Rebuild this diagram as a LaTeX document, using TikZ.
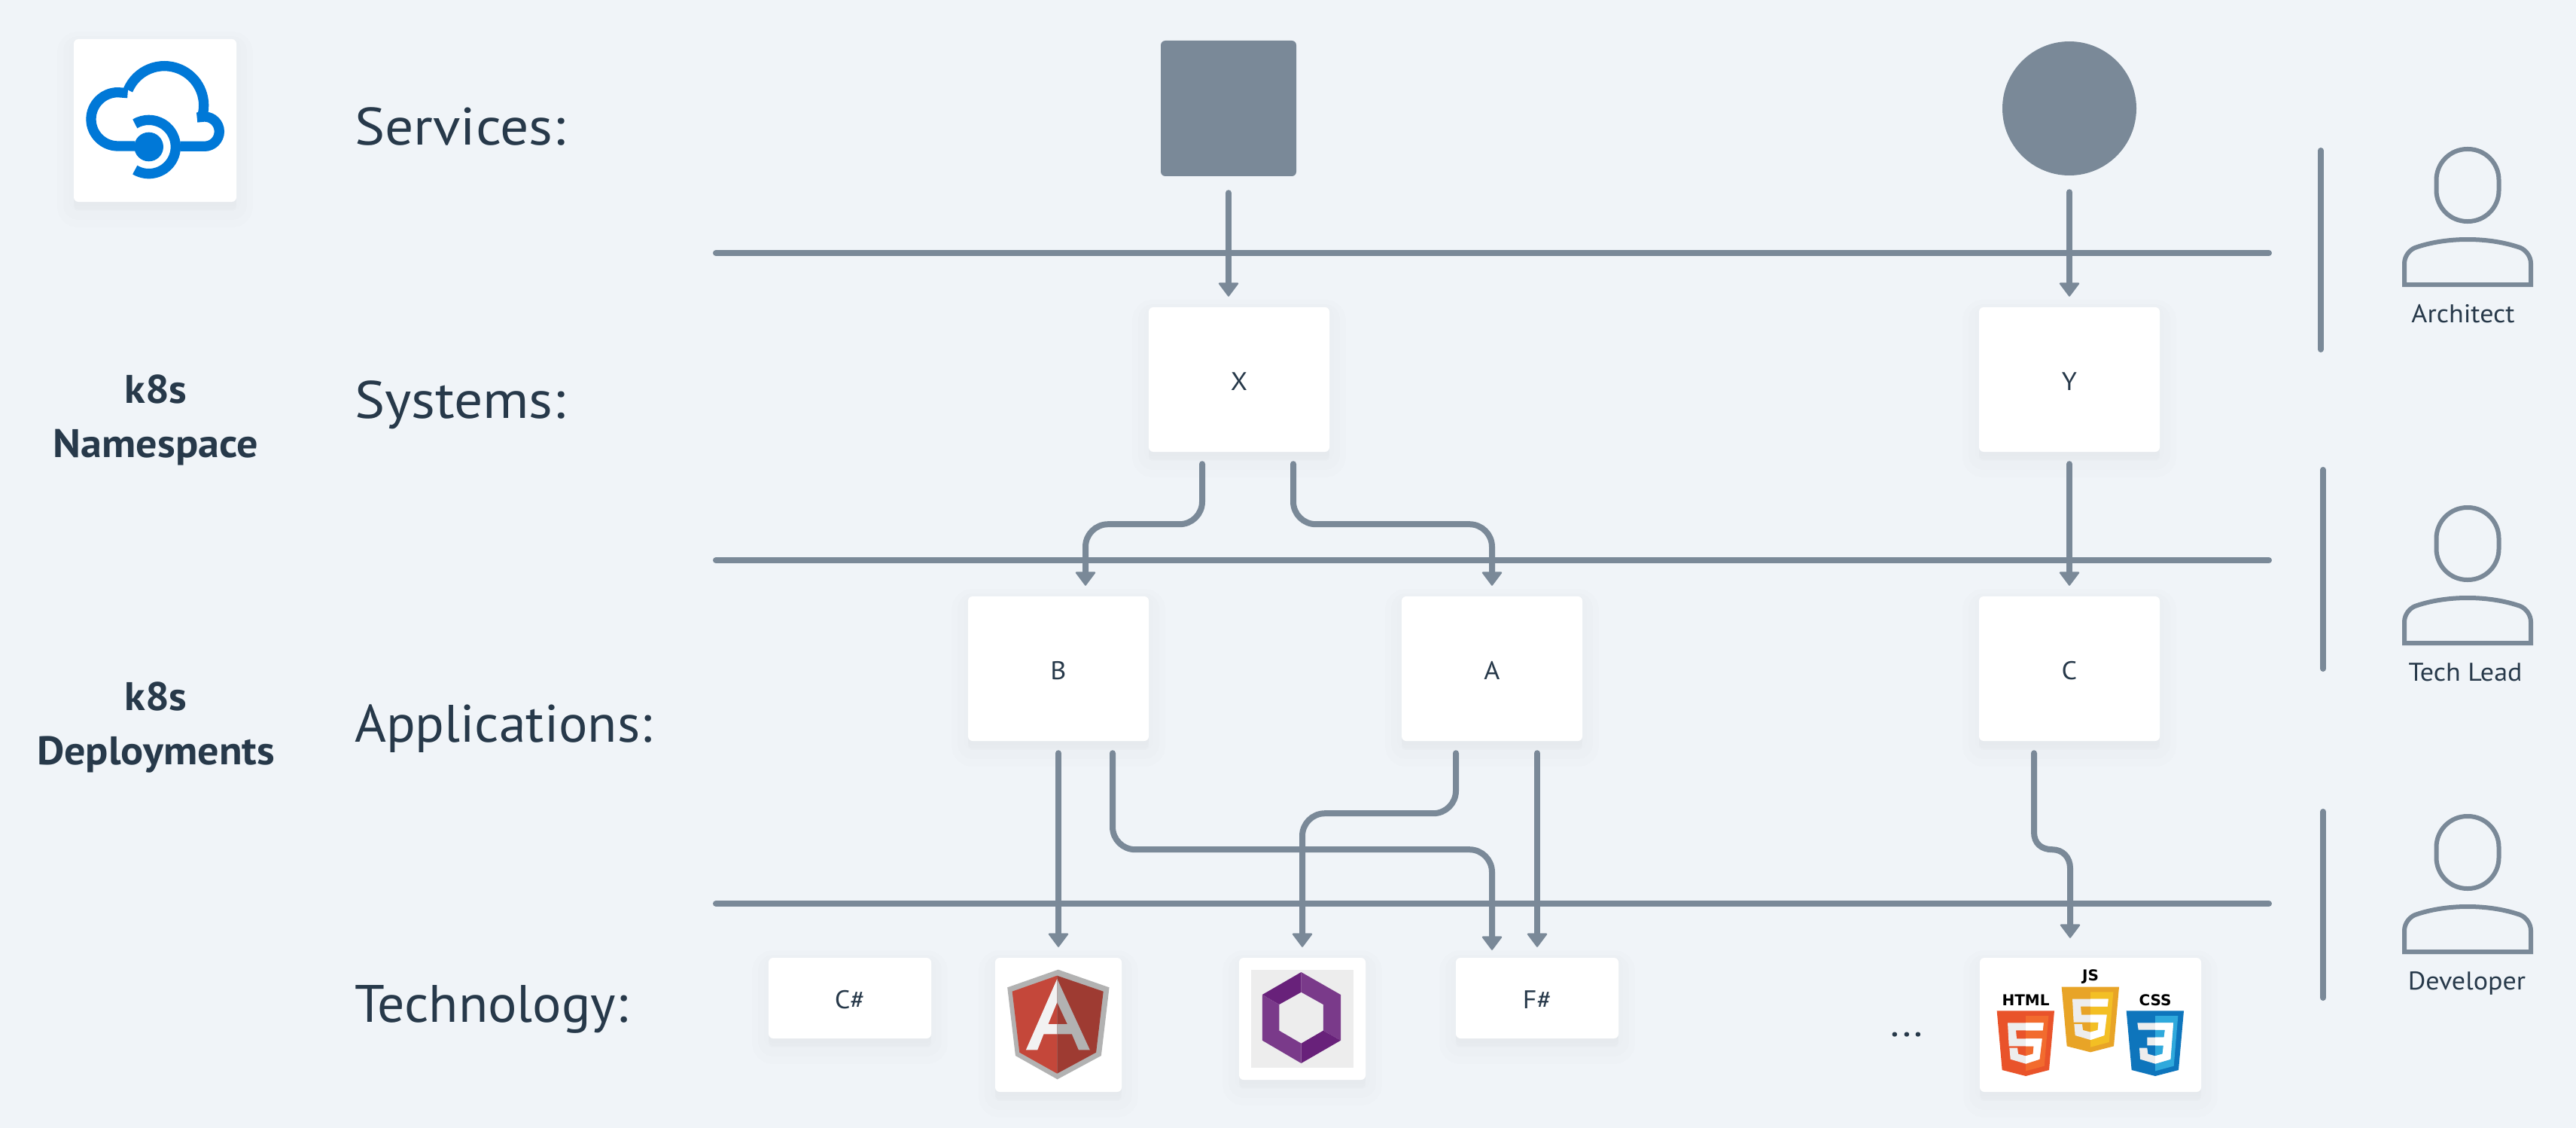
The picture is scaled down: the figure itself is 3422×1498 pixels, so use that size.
\documentclass[tikz,border=0pt]{standalone}
\usepackage{fontspec}
\setmainfont[FakeStretch=1.06]{PT Sans}
\newfontfamily\rowwide[FakeStretch=1.08]{PT Sans}
\newfontfamily\rownarrow[FakeStretch=1.025]{PT Sans}
\usetikzlibrary{arrows.meta,calc}
\definecolor{bgc}{HTML}{F0F4F8}
\definecolor{linec}{HTML}{7A8998}
\definecolor{textc}{HTML}{27394A}
\definecolor{azure}{HTML}{0078D7}
\definecolor{angred}{HTML}{C4473A}
\definecolor{angdark}{HTML}{9E3B32}
\definecolor{chaindark}{HTML}{68217A}
\definecolor{chainlight}{HTML}{7A3A8A}
\definecolor{htmlbase}{HTML}{E9532A}
\definecolor{htmllight}{HTML}{F26B2E}
\definecolor{jsbase}{HTML}{E8A427}
\definecolor{jslight}{HTML}{F3BF24}
\definecolor{cssbase}{HTML}{0E75BC}
\definecolor{csslight}{HTML}{2FA9DC}
\newcommand{\fsz}[1]{\fontsize{#1}{#1}\selectfont}
\tikzset{
  card/.style={fill=white,draw=none,rounded corners=6pt,inner sep=0pt,text=textc,font=\fsz{34},
    text height=28pt,text depth=0pt,
    preaction={draw=black,fill=black,draw opacity=.006,fill opacity=.006,line width=44pt,transform canvas={yshift=-12pt}},
    preaction={draw=black,fill=black,draw opacity=.006,fill opacity=.006,line width=28pt,transform canvas={yshift=-10pt}},
    preaction={draw=black,fill=black,draw opacity=.005,fill opacity=.005,line width=12pt,transform canvas={yshift=-6pt}}},
  conn/.style={draw=linec,line width=8pt,line cap=round,
    -{Triangle[length=19pt,width=28pt,line width=2pt,round]}},
  tier/.style={draw=linec,line width=8pt,line cap=round},
  rowlabel/.style={anchor=base west,inner sep=0pt,text=textc,font=\rowwide\fsz{70}},
  rowlabeltight/.style={anchor=base west,inner sep=0pt,text=textc,font=\rownarrow\fsz{70}},
  boldlabel/.style={anchor=base,inner sep=0pt,text=textc,font=\fsz{53}\bfseries},
  rolelabel/.style={anchor=base,inner sep=0pt,text=textc,font=\fsz{34}},
  azurearc/.style={draw=azure,line width=13.3pt}
}
\newcommand{\personicon}[1]{%
  \begin{scope}[shift={(0,#1)}]
    \draw[line width=6pt,draw=linec,rounded corners=41pt] (3236.5,198) rectangle (3319.5,294);
    \draw[line width=6pt,draw=linec,miter limit=4]
      (3194,378) -- (3194,350) .. controls (3194,340) and (3201,332) .. (3208,329)
      .. controls (3228,322) and (3252,318) .. (3278,318)
      .. controls (3304,318) and (3328,322) .. (3348,329)
      .. controls (3355,332) and (3362,340) .. (3362,350) -- (3362,378) -- cycle;
  \end{scope}}
\def\fivepath{(201,325) -- (344,325) -- (341,355) -- (234,355) -- (237,388) -- (338,388) -- (328,470) -- (273,488) -- (212,470) -- (208,425) -- (240,425) -- (243,449) -- (273,457) -- (302,449) -- (305,418) -- (206,418) -- cycle}
\def\threepath{(202,325) -- (345,325) -- (334,470) -- (273,488) -- (213,470) -- (210,425) -- (241,425) -- (244,449) -- (273,457) -- (302,449) -- (306,415) -- (241,415) -- (241,383) -- (308,383) -- (312,353) -- (206,353) -- cycle}
\newcommand{\shieldicon}[5]{%
  \begin{scope}[shift={(#1,#2)}]
    \fill[#3] (158,277) -- (387,277) -- (366,513) -- (273,537) -- (179,513) -- cycle;
    \fill[#4] (273,297) -- (364,297) -- (347,497) -- (273,517) -- cycle;
    \fill[white!93!black] #5;
    \begin{scope}
      \clip (273,277) rectangle (400,540);
      \fill[white] #5;
    \end{scope}
  \end{scope}}
\begin{document}
\begin{tikzpicture}[x=1pt,y=-1pt]
\useasboundingbox (0,0) rectangle (3422,1498);
\fill[bgc] (0,0) rectangle (3422,1498);

% tier lines
\draw[tier] (951,336) -- (3014,336);
\draw[tier] (951,744) -- (3014,744);
\draw[tier] (951,1200) -- (3014,1200);

% role bars
\draw[tier] (3083,200) -- (3083,464);
\draw[tier] (3086,624) -- (3086,888);
\draw[tier] (3086,1078) -- (3086,1325);

% row labels
\node[rowlabel] (lsvc) at (471,193) {Services:};
\node[rowlabel] (lsys) at (471,555) {Systems:};
\node[rowlabeltight] (lapp) at (471,985) {Applications:};
\node[rowlabeltight] (ltec) at (471,1357) {Technology:};
\node[boldlabel] (lk1) at (207,535) {k8s};
\node[boldlabel] (lk2) at (207,607) {Namespace};
\node[boldlabel] (lk3) at (207,943) {k8s};
\node[boldlabel] (lk4) at (207,1015) {Deployments};

% service shapes
\node[fill=linec,rounded corners=6pt,minimum size=180pt,inner sep=0pt] (svcA) at (1632,144) {};
\node[fill=linec,circle,minimum size=178pt,inner sep=0pt] (svcB) at (2749,144) {};

% system and application cards
\node[card,minimum width=240pt,minimum height=192pt] (X) at (1646,504) {X};
\node[card,minimum width=240pt,minimum height=192pt] (Y) at (2749,504) {Y};
\node[card,minimum width=240pt,minimum height=192pt] (B) at (1406,888) {B};
\node[card,minimum width=240pt,minimum height=192pt] (A) at (1982,888) {A};
\node[card,minimum width=240pt,minimum height=192pt] (C) at (2749,888) {C};

% technology cards
\node[card,minimum width=216pt,minimum height=107pt] (csharp) at (1129,1325.5) {C\#};
\node[card,minimum width=168pt,minimum height=178pt] (angular) at (1406,1361) {};
\node[card,minimum width=168pt,minimum height=162pt] (chain) at (1730,1353) {};
\node[card,minimum width=216pt,minimum height=107pt] (fsharp) at (2042,1325.5) {F\#};
\node[card,minimum width=294pt,minimum height=178pt] (web) at (2777,1361) {};
\node[inner sep=0pt,text=textc,font=\fsz{52}] (dots) at (2533,1374) {...};

% logo card
\node[card,minimum width=216pt,minimum height=216pt] (logo) at (206,160) {};

% connectors
\draw[conn,shorten <=22pt,shorten >=14pt] (svcA.south) -- ([xshift=-14pt]X.north);
\draw[conn,shorten <=22pt,shorten >=14pt] (svcB.south) -- (Y.north);
\draw[conn,rounded corners=30pt,shorten <=16pt,shorten >=14pt]
  ([xshift=-49pt]X.south) -- ++(0,96) -| ([xshift=36pt]B.north);
\draw[conn,rounded corners=30pt,shorten <=16pt,shorten >=14pt]
  ([xshift=72pt]X.south) -- ++(0,96) -| (A.north);
\draw[conn,shorten <=16pt,shorten >=14pt] (Y.south) -- (C.north);
\draw[conn,shorten <=16pt,shorten >=14pt] (B.south) -- (angular.north);
\draw[conn,rounded corners=30pt,shorten <=16pt,shorten >=10pt]
  ([xshift=72pt]B.south) -- ++(0,144) -| ([xshift=-60pt]fsharp.north);
\draw[conn,rounded corners=30pt,shorten <=16pt,shorten >=14pt]
  ([xshift=-48pt]A.south) -- ++(0,96) -| (chain.north);
\draw[conn,shorten <=16pt,shorten >=14pt] ([xshift=60pt]A.south) -- (fsharp.north);
\draw[conn,shorten <=16pt,shorten >=26pt]
  ([xshift=-47pt]C.south) -- ++(0,121)
  .. controls +(0,15) and +(-14,0) .. ++(24,23)
  .. controls +(14,0) and +(0,-15) .. ++(24,25)
  -- ([xshift=-27pt]web.north);

% role icons
\personicon{0}
\personicon{476}
\personicon{886}
\node[rolelabel] (rA) at (3272,428) {Architect};
\node[rolelabel] (rT) at (3275,904) {Tech Lead};
\node[rolelabel] (rD) at (3277,1314) {Developer};

% cloud logo
\begin{scope}[shift={(60,30)},scale=1/3]
  \draw[azurearc] (358,492) -- (290,492) arc[start angle=90,end angle=270,radius=107] -- (329,281);
  \draw[azurearc] (475,330) ++(203:157) arc[start angle=203,end angle=375,radius=157];
  \draw[azurearc] (605,378) -- (635,375) arc[start angle=270,end angle=450,radius=59] -- (538,493);
  \draw[azurearc] (413,495) ++(121:107) arc[start angle=121,end angle=-121,radius=107];
  \fill[azure] (413,495) circle[radius=58];
\end{scope}

% angular logo
\begin{scope}[shift={(1290,1250)},xscale=1/2.8,yscale=1/3]
  \fill[black!30] (324,113) -- (514,184) -- (484,456) -- (321,550) -- (165,456) -- (135,184) -- cycle;
  \fill[angred] (320,137) -- (153,200) -- (180,443) -- (320,527) -- cycle;
  \fill[angdark] (320,137) -- (492,200) -- (465,443) -- (320,527) -- cycle;
  \fill[white!95!black] (320,150) -- (204,433) -- (247,433) -- (270,370) -- (320,370) -- (320,330) -- (287,330) -- (320,243) -- cycle;
  \fill[black!30] (320,150) -- (442,433) -- (400,433) -- (375,370) -- (320,370) -- (320,330) -- (358,330) -- (320,243) -- cycle;
\end{scope}

% chain logo
\begin{scope}[shift={(1290,1250)},xscale=1/2.8,yscale=1/3]
  \fill[black!7] (1042,113) rectangle (1422,503);
  \fill[chaindark] (1083,213) -- (1228,123) -- (1228,203) -- (1146,252) -- cycle;
  \fill[chainlight] (1228,123) -- (1375,213) -- (1375,395) -- (1310,356) -- (1310,252) -- (1228,203) -- cycle;
  \fill[chaindark] (1375,395) -- (1228,486) -- (1228,407) -- (1310,356) -- cycle;
  \fill[chainlight] (1228,486) -- (1083,395) -- (1083,213) -- (1146,252) -- (1146,356) -- (1228,407) -- cycle;
\end{scope}

% web logos
\begin{scope}[shift={(2600,1250)},scale=1/3]
  \shieldicon{0}{0}{htmlbase}{htmllight}{\fivepath}
  \shieldicon{258}{-95}{jsbase}{jslight}{\fivepath}
  \shieldicon{516}{0}{cssbase}{csslight}{\threepath}
  \node[font=\fontspec{DejaVu Sans}\bfseries\fsz{20},inner sep=0pt] (thtml) at (273,235) {HTML};
  \node[font=\fontspec{DejaVu Sans}\bfseries\fsz{20},inner sep=0pt] (tjs) at (531,140) {JS};
  \node[font=\fontspec{DejaVu Sans}\bfseries\fsz{20},inner sep=0pt] (tcss) at (789,235) {CSS};
\end{scope}
\end{tikzpicture}
\end{document}
